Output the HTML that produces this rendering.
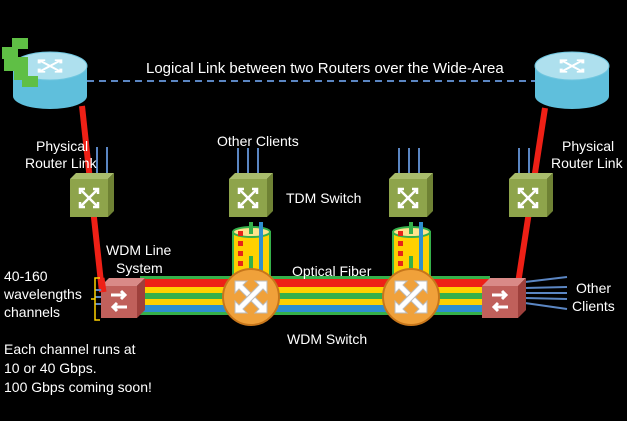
<!DOCTYPE html>
<html><head><style>
html,body{margin:0;padding:0;background:#000;}
svg{display:block;}
text{font-family:"Liberation Sans",sans-serif;fill:#fff;font-size:14px;}
</style></head><body>
<svg width="627" height="421" viewBox="0 0 627 421" xmlns="http://www.w3.org/2000/svg">
<defs>
<g id="xarrows" stroke="#fff" stroke-width="2.5" fill="none">
  <line x1="-9" y1="-9" x2="9" y2="9"/><line x1="9" y1="-9" x2="-9" y2="9"/>
  <path d="M-9,-4 L-9,-9 L-4,-9 M9,-4 L9,-9 L4,-9 M-9,4 L-9,9 L-4,9 M9,4 L9,9 L4,9"/>
</g>
<g id="gsw">
  <polygon points="0,6 6,0 44,0 38,6" fill="#a9bd6c"/>
  <polygon points="38,6 44,0 44,38 38,44" fill="#6f8234"/>
  <rect x="0" y="6" width="38" height="38" fill="#8ea44b"/>
  <use href="#xarrows" x="19" y="25"/>
</g>
<g id="cyl">
  <rect x="0" y="6" width="37" height="50" fill="#ffd100" stroke="#35b04a" stroke-width="2"/>
  <ellipse cx="18.5" cy="6" rx="18.5" ry="5" fill="#ffe38a" stroke="#35b04a" stroke-width="2"/>
  <g fill="#e8231a"><rect x="5" y="5" width="5" height="5"/><rect x="5" y="15" width="5" height="5"/><rect x="5" y="25" width="5" height="5"/><rect x="5" y="35" width="5" height="5"/><rect x="5" y="45" width="5" height="5"/></g>
  <rect x="16" y="-4" width="4" height="12" fill="#35b04a"/>
  <rect x="16" y="30" width="4" height="24" fill="#35b04a"/>
  <rect x="26" y="-4" width="4" height="58" fill="#2e8fd0"/>
</g>
<g id="wsw">
  <circle r="28" fill="#f0a13a" stroke="#c7761b" stroke-width="2"/>
  <g fill="#fff" stroke="#bbb" stroke-width="1">
    <path d="M-16,-16 L-4,-16 L-8,-12 L12,8 L16,4 L16,16 L4,16 L8,12 L-12,-8 L-16,-4 Z"/>
    <path d="M16,-16 L16,-4 L12,-8 L-8,12 L-4,16 L-16,16 L-16,4 L-12,8 L8,-12 L4,-16 Z"/>
  </g>
</g>
<g id="rbox">
  <polygon points="0,8 8,0 44,0 36,8" fill="#d98a87"/>
  <polygon points="36,8 44,0 44,32 36,40" fill="#9e403c"/>
  <rect x="0" y="8" width="36" height="32" fill="#c0605b"/>
  <path d="M10,17 h14 M20,13 l4,4 l-4,4 M26,29 h-14 M16,25 l-4,4 l4,4" stroke="#fff" stroke-width="3" fill="none"/>
</g>
<g id="router">
  <path d="M0,14 v30 a37,13 0 0 0 74,0 v-30 z" fill="#5fbfdc"/>
  <ellipse cx="37" cy="14" rx="37" ry="14" fill="#aee0ee" stroke="#6fc6df"/>
  <g transform="translate(37,14) scale(1.2,0.65)"><use href="#xarrows"/></g>
</g>
</defs>
<rect width="627" height="421" fill="#000"/>

<line x1="87" y1="81" x2="536" y2="81" stroke="#5b86c3" stroke-width="2" stroke-dasharray="7,5"/>
<text x="146" y="73" style="font-size:15px">Logical Link between two Routers over the Wide-Area</text>

<use href="#router" x="13" y="52"/>
<use href="#router" x="535" y="52"/>
<g fill="#5fbf45">
  <rect x="12" y="38" width="16" height="11"/><rect x="2" y="47" width="16" height="12"/>
  <rect x="4" y="57" width="24" height="14"/><rect x="14" y="68" width="14" height="12"/>
  <rect x="22" y="76" width="16" height="11"/>
</g>

<line x1="82" y1="106" x2="102" y2="292" stroke="#ee2016" stroke-width="6"/>
<line x1="545" y1="108" x2="517" y2="290" stroke="#ee2016" stroke-width="6"/>

<g stroke="#5b86c3" stroke-width="2">
  <line x1="97" y1="147" x2="97" y2="175"/><line x1="107" y1="147" x2="107" y2="175"/>
  <line x1="238" y1="148" x2="238" y2="175"/><line x1="248" y1="148" x2="248" y2="175"/><line x1="258" y1="148" x2="258" y2="175"/>
  <line x1="399" y1="148" x2="399" y2="175"/><line x1="409" y1="148" x2="409" y2="175"/><line x1="419" y1="148" x2="419" y2="175"/>
  <line x1="519" y1="148" x2="519" y2="175"/><line x1="529" y1="148" x2="529" y2="175"/>
  <line x1="95" y1="290" x2="120" y2="290"/><line x1="95" y1="297" x2="120" y2="297"/><line x1="95" y1="304" x2="120" y2="304"/>
  <line x1="525" y1="282" x2="567" y2="277"/><line x1="525" y1="288" x2="567" y2="287"/>
  <line x1="525" y1="293" x2="567" y2="293"/><line x1="525" y1="298" x2="567" y2="299"/><line x1="525" y1="303" x2="567" y2="309"/>
</g>

<use href="#gsw" x="70" y="173"/>
<use href="#gsw" x="229" y="173"/>
<use href="#gsw" x="389" y="173"/>
<use href="#gsw" x="509" y="173"/>

<use href="#cyl" x="233" y="226"/>
<use href="#cyl" x="393" y="226"/>

<rect x="140" y="276" width="350" height="39" fill="#35b04a"/>
<rect x="140" y="279" width="350" height="8" fill="#ee2016"/>
<rect x="140" y="287" width="350" height="6" fill="#ffd100"/>
<rect x="140" y="293" width="350" height="6" fill="#35b04a"/>
<rect x="140" y="299" width="350" height="6" fill="#ffd100"/>
<rect x="140" y="305" width="350" height="7" fill="#2e8fd0"/>

<use href="#wsw" x="251" y="297"/>
<use href="#wsw" x="411" y="297"/>

<use href="#rbox" x="101" y="278"/>
<use href="#rbox" x="482" y="278"/>
<line x1="102" y1="278" x2="104" y2="292" stroke="#ee2016" stroke-width="5"/>

<path d="M100,278 h-5 v42 h5 M95,299 h-4" stroke="#ffd100" stroke-width="1.5" fill="none"/>

<text x="36" y="151">Physical</text>
<text x="25" y="168">Router Link</text>
<text x="562" y="151">Physical</text>
<text x="551" y="168">Router Link</text>
<text x="217" y="146">Other Clients</text>
<text x="286" y="203">TDM Switch</text>
<text x="106" y="255">WDM Line</text>
<text x="116" y="273">System</text>
<text x="292" y="276">Optical Fiber</text>
<text x="287" y="344">WDM Switch</text>
<text x="576" y="293">Other</text>
<text x="572" y="311">Clients</text>
<text x="4" y="281">40-160</text>
<text x="4" y="299">wavelengths</text>
<text x="4" y="317">channels</text>
<text x="4" y="354">Each channel runs at</text>
<text x="4" y="373">10 or 40 Gbps.</text>
<text x="4" y="392">100 Gbps coming soon!</text>
</svg>
</body></html>
